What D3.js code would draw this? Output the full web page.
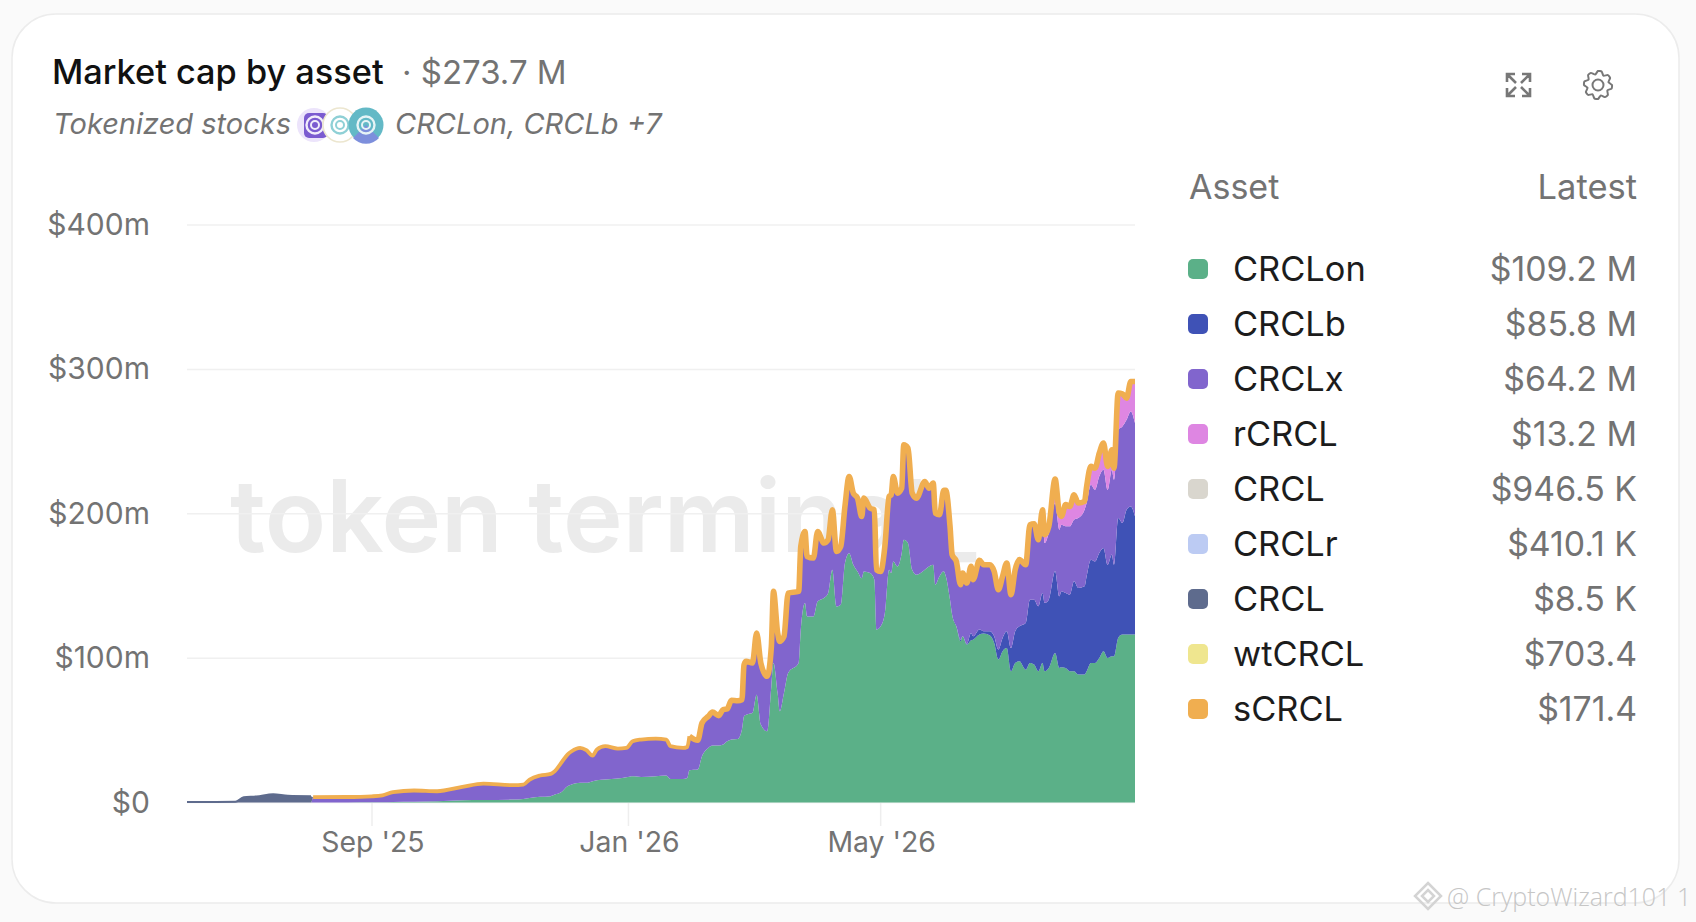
<!DOCTYPE html>
<html><head><meta charset="utf-8">
<script src="https://cdn.jsdelivr.net/npm/d3@7"></script>
<style>html,body{margin:0;padding:0;background:#fafafa}svg{display:block}text{font-family:Inter,"Noto Sans",sans-serif}</style>
</head><body><svg id="c" width="1696" height="922"></svg>
<script>
// Day number counted from startDate for every sampled column of the chart
const startDate = new Date(2025, 5, 5);
const endDay = 451;
const days = [0,14,23,27,33,41,48,59,
60,76,88,93,98,108,119,131,141,155,160,163,168,173,175,178,181,183,187,190,193,195,199,205,209,212,216,223,228,230,236,238,239,243,245,248,250,253,255,257,259,262,
264,265,266,269,271,273,276,278,279,281,282,284,286,291,292,294,295,298,300,303,305,307,309,311,313,315,317,319,321,322,325,327,328,330,332,334,335,336,338,340,341,343,345,347,351,353,355,356,358,360,361,363,364,366,
368,369,371,373,374,377,379,382,384,386,388,390,392,394,396,399,401,403,405,407,
408,410,413,415,416,418,420,422,424,427,428,430,432,434,436,438,440,441,443,445,447,449,451];

// Values in $ millions. Each list starts at the day named in its *_from constant.
const CRCLon_from = 60;
const CRCLon = [0,0,.1,.2,.4,.6,.8,1.6,1.8,2,2.4,3.2,3.9,4.4,5.5,7.1,11.3,12.4,13.6,13.6,14.7,15.4,15.9,16.6,17.5,18.2,17.7,18.2,18.7,16.3,16.3,17,22.3,22.8,32,37.8,39.4,39.4,40.1,42.4,43.6,44,
50.5,59.7,60.8,62,74.7,54,49.3,80.5,96.6,75.8,63.2,75.8,89.7,96.6,119.7,138.1,128.9,128.9,139.3,141.6,145,161.2,135.8,137,165.8,172.7,164.7,160,155.4,160,158.9,154.3,119.7,122,131.2,161.2,158.9,167,163.5,172.7,182,179.7,161.2,157.7,161.2,163.5,164.7,150.9,156.7,160.1,156.7,140.5,130.1,122,
111.7,115.1,109.4,112.4,112.8,116.3,117,115.6,110.5,99,104.8,107,90.9,96.7,97.8,92,96.7,95.5,90.9,96.7,
90.9,93.2,103.6,93.2,93.7,93.2,90.9,90.9,88.6,88.6,90.9,96.7,96.7,100.1,104.8,100.1,101.3,101.3,114,116.3,116.3,116.3,116.3];
const CRCLb_from = 368;
const CRCLb = [1.1,0,.4,5,2.3,3.5,1.6,3,4.6,6.9,9.2,11.6,16.1,21.9,24.2,32.4,43.8,45,45,48.4,
47.3,47.3,56.5,49.6,52.6,51.9,53.1,62.3,60,61.1,65.8,71.5,70.3,72.7,71.5,64.6,70.4,63.4,83,77.3,86.5,88.8,81.9];
const CRCLx_from = 60;
const CRCLx = [3.7,3.8,4.2,4.8,6.7,7.7,7,9.2,11.3,10,10,12.7,14.8,15.4,16.2,20.3,21.9,23.1,24.2,22.6,17.8,21.3,23.1,20.7,20.3,24.2,25.9,26.1,24.9,22.7,21.5,21.5,23.6,20.3,23.1,21.9,23.3,20.8,24.2,22.4,27.2,26.5,
20.7,35.7,37,34.6,42.7,42.6,38.1,27.6,49.6,41.6,48.4,39.2,55.3,49.6,57.7,49.6,41.5,40.4,48.4,38.1,37,41.5,38.1,40.4,39.2,53.1,49.6,50.8,42.7,50.8,45,48.4,41.5,38,46.2,50.8,54.2,58.8,50.8,45,65.7,65.7,53.1,53.1,61.1,54.2,56.6,49.6,42.6,56.1,59.5,50.8,41.6,45,
38.1,43.9,42.2,46.2,39.3,47.9,46.1,46.1,45,41.5,42.7,47.3,37,42.7,46.2,40.3,51.9,52.6,46.1,57.7,
41.5,46.2,47.3,46.2,46.1,46.2,47.3,42.7,48.4,53.1,50.7,51.9,49.6,53.1,54.2,51.9,58.8,58.9,61.2,66.9,62.3,65.8,64.6];
const rCRCL_from = 408;
const rCRCL = [5.8,4.6,16.6,11.5,5.8,15,13.8,17.3,10.4,5.8,11.5,12.7,15,16.1,18.4,16.2,13.8,8,25.4,22.6,15,20.7,28.8];
const CRCL2_from = 0;
const CRCL2 = [.4,.4,.5,3.7,4.2,5.7,4.6,4.3];
const sCRCL_from = 60; // a trace of value only, seen as the orange edge on the stack
const sCRCL_wide_from = 239; // the orange edge reads wider from here on

// Legend and axis labels
const assetNames = ["CRCLon","CRCLb","CRCLx","rCRCL","CRCL","CRCLr","CRCL","wtCRCL","sCRCL"];
const assetLatest = ["$109.2 M","$85.8 M","$64.2 M","$13.2 M","$946.5 K","$410.1 K","$8.5 K","$703.4","$171.4"];
const assetColors = ["#5bb088","#3f52b6","#8165cd","#de86e2","#d9d6ce","#bccbf3","#5e6b8d","#efe68f","#f0ae50"];
const yTicks = [0,100,200,300,400];
const xTickDates = [[new Date(2025,8,1),"Sep '25"],[new Date(2026,0,1),"Jan '26"],[new Date(2026,4,1),"May '26"]];

const svg = d3.select("#c");
const grey = "#737373";

// Card
svg.append("rect").attr("x",12).attr("y",14).attr("width",1667).attr("height",889).attr("rx",44)
  .attr("fill","#fff").attr("stroke","#ececec").attr("stroke-width",1.5);

// Header
const title = svg.append("text").attr("x",52).attr("y",84).attr("font-size",34.3);
title.append("tspan").attr("fill","#111").attr("font-weight",500).text("Market cap by asset");
svg.append("text").attr("x",402).attr("y",84).attr("font-size",33).attr("fill",grey).text("· $273.7 M");
svg.append("text").attr("x",53).attr("y",134).attr("font-size",29).attr("font-style","italic").attr("fill",grey).text("Tokenized stocks");
svg.append("text").attr("x",395).attr("y",134).attr("font-size",29).attr("font-style","italic").attr("fill",grey).text("CRCLon, CRCLb +7");

// Token icons
function swirl(g,cx,cy,c){
  g.append("circle").attr("cx",cx).attr("cy",cy).attr("r",8.5).attr("fill","none").attr("stroke",c).attr("stroke-width",2.4);
  g.append("circle").attr("cx",cx).attr("cy",cy).attr("r",4).attr("fill","none").attr("stroke",c).attr("stroke-width",2);
}
const ic = svg.append("g");
ic.append("circle").attr("cx",314).attr("cy",125).attr("r",17).attr("fill","#ece4fb");
ic.append("rect").attr("x",304).attr("y",113).attr("width",24).attr("height",25).attr("rx",5).attr("fill","#7b5bd0");
swirl(ic,315,125,"#f1ecfb");
ic.append("circle").attr("cx",340).attr("cy",125).attr("r",17).attr("fill","#fff").attr("stroke","#ece6cf").attr("stroke-width",1.6);
swirl(ic,340,125,"#8fd0d6");
ic.append("circle").attr("cx",366).attr("cy",125).attr("r",17.5).attr("fill","#63b9c6");
ic.append("path").attr("d","M366 125L379 138A17.5 17.5 0 0 1 353 138Z").attr("fill","#7d8fdc");
swirl(ic,366,125,"#e6f4f6");

// Action icons
const act = svg.append("g").attr("stroke","#777").attr("stroke-width",2.6).attr("fill","none");
act.append("path").attr("d","M1507 82V74H1515M1507 74L1516 83M1530 82V74H1522M1530 74L1521 83M1507 88V96H1515M1507 96L1516 87M1530 88V96H1522M1530 96L1521 87");
const gearR = [14,14,10.8,14,14,10.8,14,14,10.8,14,14,10.8,14,14,10.8,14,14,10.8,14,14,10.8,14,14,10.8];
const gearLine = d3.lineRadial().curve(d3.curveCardinalClosed.tension(.5))
  .angle((d,i)=>i*2*Math.PI/gearR.length).radius(d=>d);
act.append("path").attr("transform","translate(1598,85)").attr("stroke-width",2).attr("d",gearLine(gearR));
act.append("circle").attr("cx",1598).attr("cy",85).attr("r",5.5).attr("stroke-width",2);

// Scales
const x = d3.scaleTime().domain([startDate,d3.timeDay.offset(startDate,endDay)]).range([187,1135]);
const y = d3.scaleLinear().domain([0,400]).range([802.5,225]);

// Watermark behind the chart
svg.append("text").attr("x",230).attr("y",552).attr("font-size",101).attr("font-weight",600).attr("fill","#ebebeb").text("token terminal_");

// Grid and axes
svg.append("g").selectAll("line").data(yTicks).join("line")
  .attr("x1",187).attr("x2",1135).attr("y1",d=>y(d)).attr("y2",d=>y(d)).attr("stroke","#f0f0f0").attr("stroke-width",1.5);
svg.append("g").selectAll("text").data(yTicks).join("text")
  .attr("x",150).attr("y",d=>y(d)+10).attr("text-anchor","end").attr("font-size",30).attr("fill",grey)
  .text(d=>d===0?"$0":`$${d}m`);
svg.append("g").selectAll("line").data(xTickDates).join("line")
  .attr("x1",d=>x(d[0])).attr("x2",d=>x(d[0])).attr("y1",803).attr("y2",826).attr("stroke","#eeeeee").attr("stroke-width",1.5);
svg.append("g").selectAll("text").data(xTickDates).join("text")
  .attr("x",d=>x(d[0])+1).attr("y",852).attr("text-anchor","middle").attr("font-size",28.4).attr("fill",grey).text(d=>d[1]);

// Rows for the stack
const pick = (arr,from,i)=>{const k=i-days.indexOf(from);return k>=0&&k<arr.length?arr[k]:0;};
const rows = days.map((d,i)=>({
  date:d3.timeDay.offset(startDate,d),
  CRCLon:pick(CRCLon,CRCLon_from,i), CRCLb:pick(CRCLb,CRCLb_from,i), CRCLx:pick(CRCLx,CRCLx_from,i),
  rCRCL:pick(rCRCL,rCRCL_from,i), CRCL2:pick(CRCL2,CRCL2_from,i)
}));
const keys = ["CRCLon","CRCLb","CRCLx","rCRCL","CRCL2"];
const keyColor = {CRCLon:assetColors[0],CRCLb:assetColors[1],CRCLx:assetColors[2],rCRCL:assetColors[3],CRCL2:assetColors[6]};
const stacked = d3.stack().keys(keys)(rows);
const area = d3.area().x(d=>x(d.data.date)).y0(d=>y(d[0])).y1(d=>y(d[1])).curve(d3.curveMonotoneX);
const plot = svg.append("g");
plot.selectAll("path").data(stacked).join("path").attr("fill",d=>keyColor[d.key]).attr("d",area);

// Thin slate edge while the slate series is the only one
const stackTop = stacked[stacked.length-1];
const slateEnd = days.indexOf(CRCL2_from)+CRCL2.length;
const edge = d3.line().x(d=>x(d.data.date)).y(d=>y(d[1])).curve(d3.curveMonotoneX);
plot.append("path").attr("fill","none").attr("stroke",assetColors[6]).attr("stroke-width",2).attr("d",edge(stackTop.slice(0,slateEnd)));
// Orange top edge
const wideAt = days.indexOf(sCRCL_wide_from);
plot.append("path").attr("fill","none").attr("stroke",assetColors[8]).attr("stroke-width",3.8).attr("stroke-linejoin","round")
  .attr("d",edge(stackTop.slice(days.indexOf(sCRCL_from),wideAt+1)));
plot.append("path").attr("fill","none").attr("stroke",assetColors[8]).attr("stroke-width",5.6).attr("stroke-linejoin","round")
  .attr("d",edge(stackTop.slice(wideAt)));

// Legend
svg.append("text").attr("x",1189).attr("y",199).attr("font-size",34).attr("fill",grey).text("Asset");
svg.append("text").attr("x",1637).attr("y",199).attr("text-anchor","end").attr("font-size",34.5).attr("fill",grey).text("Latest");
const rowY = d3.scalePoint().domain(d3.range(assetNames.length)).range([269,709]);
const lg = svg.append("g").selectAll("g").data(assetNames).join("g").attr("transform",(d,i)=>`translate(0,${rowY(i)})`);
lg.append("rect").attr("x",1188).attr("y",-10).attr("width",20).attr("height",20).attr("rx",5).attr("fill",(d,i)=>assetColors[i]);
lg.append("text").attr("x",1233).attr("y",12).attr("font-size",34.4).attr("fill","#1c1c1c").text(d=>d);
lg.append("text").attr("x",1637).attr("y",12).attr("text-anchor","end").attr("font-size",33.8).attr("fill",grey).text((d,i)=>assetLatest[i]);

// Photo credit
const wm = svg.append("g");
wm.append("path").attr("d","M1428 883L1441 896L1428 909L1415 896Z M1428 890L1434 896L1428 902L1422 896Z").attr("fill","none").attr("stroke","#d4d4d4").attr("stroke-width",2.5);
wm.append("text").attr("x",1447).attr("y",906).attr("font-size",25).attr("font-weight",300).attr("fill","#c6c6c6").style("font-family","'Open Sans'").text("@ CryptoWizard101 1");
</script></body></html>
